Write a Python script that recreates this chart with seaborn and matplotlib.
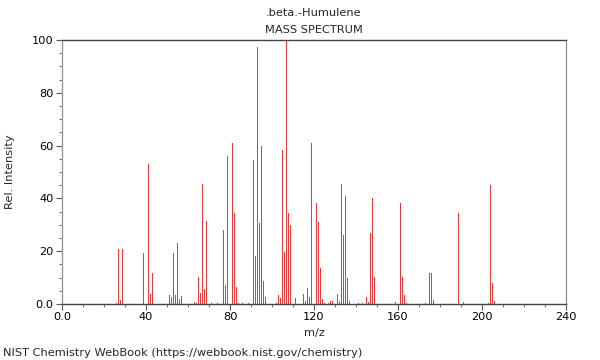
import numpy as np
import pandas as pd
import matplotlib
matplotlib.use("Agg")
import matplotlib.pyplot as plt
import seaborn as sns

# m/z values and relative intensities
mz = [26, 27, 28, 29, 39, 40, 41, 42, 43, 50, 51, 52, 53, 54, 55, 56, 57,
      63, 64, 65, 66, 67, 68, 69, 70, 71, 74, 77, 78, 79, 80, 81, 82, 83,
      84, 86, 89, 90, 91, 92, 93, 94, 95, 96, 97, 102, 103, 104, 105, 106,
      107, 108, 109, 110, 111, 115, 116, 117, 118, 119, 120, 121, 122, 123,
      124, 125, 127, 128, 129, 130, 131, 132, 133, 134, 135, 136, 137, 141,
      143, 145, 146, 147, 148, 149, 150, 159, 160, 161, 162, 163, 164, 173,
      175, 176, 177, 189, 190, 191, 203, 204, 205, 206]
intensity = [0.5, 21, 1.4, 21, 19.3, 0.8, 53, 3.8, 11.6, 0.9, 3.4, 2.8, 19.4,
             3.4, 23, 2.0, 3.0, 0.8, 0.5, 10.4, 4.3, 45.4, 5.6, 31.4, 2.1,
             0.5, 0.4, 28, 7.2, 56, 18.5, 61, 34.6, 6.3, 0.5, 0.3, 0.5, 0.6,
             54.5, 18.2, 97.2, 30.8, 59.8, 8.8, 2.8, 0.5, 3.4, 2.2, 58.3,
             19.8, 100, 34.6, 29.9, 10.0, 2.4, 3.8, 1.0, 6.2, 2.8, 60.8, 18.5,
             38.1, 31.0, 13.8, 2.0, 0.5, 0.5, 1.1, 1.2, 0.5, 3.8, 1.0, 45.6,
             26.1, 40.9, 9.7, 1.0, 0.4, 0.4, 2.8, 0.8, 26.8, 40.0, 10.4, 1.7,
             0.8, 0.8, 38.1, 10.4, 3.4, 0.4, 0.3, 11.6, 11.6, 1.5, 34.5, 4.8,
             0.8, 0.3, 45.1, 8.0, 1.0]

x_ticks = [0, 40, 80, 120, 160, 200, 240]
x_tick_labels = ["0.0", "40", "80", "120", "160", "200", "240"]
y_ticks = [0, 20, 40, 60, 80, 100]
y_tick_labels = ["0.0", "20", "40", "60", "80", "100"]

sns.set_style("ticks")
plt.rcParams["font.family"] = ["DejaVu Sans"]
plt.rcParams["font.size"] = 8.2

df = pd.DataFrame({"mz": mz, "intensity": intensity})

fig = plt.figure(figsize=(6, 3.6), dpi=100)
ax = fig.add_axes([62 / 600, 56 / 360, 504 / 600, 264 / 360])

sns.barplot(data=df, x="mz", y="intensity", native_scale=True, width=0.45,
            color="#ff2020", linewidth=0, errorbar=None, ax=ax)

ax.set_xlim(0, 240)
ax.set_ylim(0, 100)
ax.set_xticks(x_ticks)
ax.set_xticklabels(x_tick_labels)
ax.set_yticks(y_ticks)
ax.set_yticklabels(y_tick_labels)
ax.set_xticks(np.arange(0, 241, 10), minor=True)
ax.set_yticks(np.arange(0, 101, 5), minor=True)
ax.tick_params(axis="both", which="major", length=4, width=0.8,
               color="#555555", labelsize=8.2, pad=2, labelcolor="#000000")
ax.tick_params(axis="both", which="minor", length=2, width=0.8,
               color="#777777")

for side in ["top", "bottom"]:
    ax.spines[side].set_visible(True)
    ax.spines[side].set_color("#444444")
    ax.spines[side].set_linewidth(1)
for side in ["left", "right"]:
    ax.spines[side].set_visible(True)
    ax.spines[side].set_color("#999999")
    ax.spines[side].set_linewidth(1)

ax.set_xlabel("m/z", fontsize=8.2, va="center")
ax.xaxis.set_label_coords(0.5, -29 / 264)
ax.set_ylabel("Rel. Intensity", fontsize=8.2, va="center")
ax.yaxis.set_label_coords(-52 / 504, 0.5)

fig.text(314 / 600, 1 - 13 / 360, ".beta.-Humulene", ha="center",
         va="center", fontsize=8.2)
fig.text(314 / 600, 1 - 30 / 360, "MASS SPECTRUM", ha="center",
         va="center", fontsize=8.2)
fig.text(3 / 600, 1 - 353 / 360,
         "NIST Chemistry WebBook (https://webbook.nist.gov/chemistry)",
         ha="left", va="center", fontsize=8.2)

fig.savefig("out.png", dpi=100)
plt.close(fig)
